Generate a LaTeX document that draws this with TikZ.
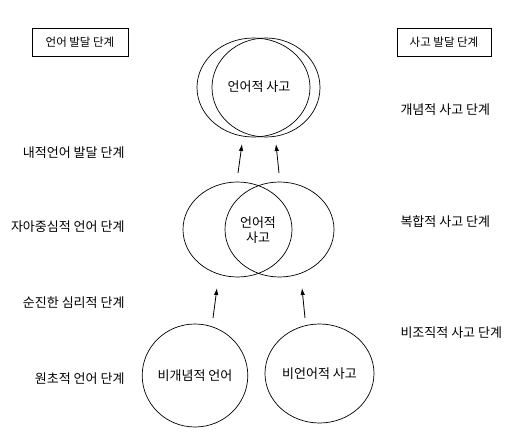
\documentclass[tikz,border=0pt]{standalone}
\usepackage{fontspec}
\setmainfont{Noto Sans CJK KR}
\usepackage{tikz}
\usetikzlibrary{shapes.geometric}
\usetikzlibrary{arrows.meta}
\begin{document}
\begin{tikzpicture}[x=1pt,y=-1pt,
        circ/.style={draw,ellipse,inner sep=0pt,line width=0.7pt},
        stagebox/.style={draw,line width=0.7pt,minimum height=28pt,inner sep=0pt,font=\fontsize{11.5}{13}\selectfont},
        stage/.style={font=\fontsize{13}{15}\selectfont},
        up/.style={-{Latex[length=7pt,width=4.5pt]},line width=0.8pt}]
        \useasboundingbox (0,0) rectangle (515,442);

        \node[stagebox,minimum width=96pt] (langbox) at (80,42) {언어 발달 단계};
        \node[stagebox,minimum width=94pt] (thinkbox) at (444,42) {사고 발달 단계};

        \node[circ,minimum width=113pt,minimum height=99pt] (topL) at (253.5,87.5) {};
        \node[circ,minimum width=108pt,minimum height=99pt] (topR) at (266,87.5) {};
        \node[stage] (toptext) at (259,87) {언어적 사고};

        \node[circ,minimum width=109pt,minimum height=95pt] (midL) at (237.5,229.5) {};
        \node[circ,minimum width=109pt,minimum height=95pt] (midR) at (279.5,229.5) {};
        \node[stage,align=center] (midtext) at (258,230) {언어적\\사고};

        \node[circ,stage,minimum width=104pt,minimum height=103pt] (lang) at (195,375.5) {비개념적 언어};
        \node[circ,stage,minimum width=109pt,minimum height=99pt] (think) at (319.5,373.5) {비언어적 사고};

        \node[stage,anchor=east] (l1) at (128,153) {내적언어 발달 단계};
        \node[stage,anchor=east] (l2) at (128,227) {자아중심적 언어 단계};
        \node[stage,anchor=east] (l3) at (128,303) {순진한 심리적 단계};
        \node[stage,anchor=east] (l4) at (128,379) {원초적 언어 단계};
        \node[stage,anchor=west] (r1) at (397,110) {개념적 사고 단계};
        \node[stage,anchor=west] (r2) at (397,222) {복합적 사고 단계};
        \node[stage,anchor=west] (r3) at (397,333) {비조직적 사고 단계};

        \coordinate (a1) at (213,318); \coordinate (b1) at (217,288);
        \coordinate (a2) at (305,318); \coordinate (b2) at (302,288);
        \coordinate (a3) at (238,173); \coordinate (b3) at (242,144);
        \coordinate (a4) at (279,173); \coordinate (b4) at (276,144);
        \draw[up] (a1) -- (b1);
        \draw[up] (a2) -- (b2);
        \draw[up] (a3) -- (b3);
        \draw[up] (a4) -- (b4);
    \end{tikzpicture}
\end{document}
